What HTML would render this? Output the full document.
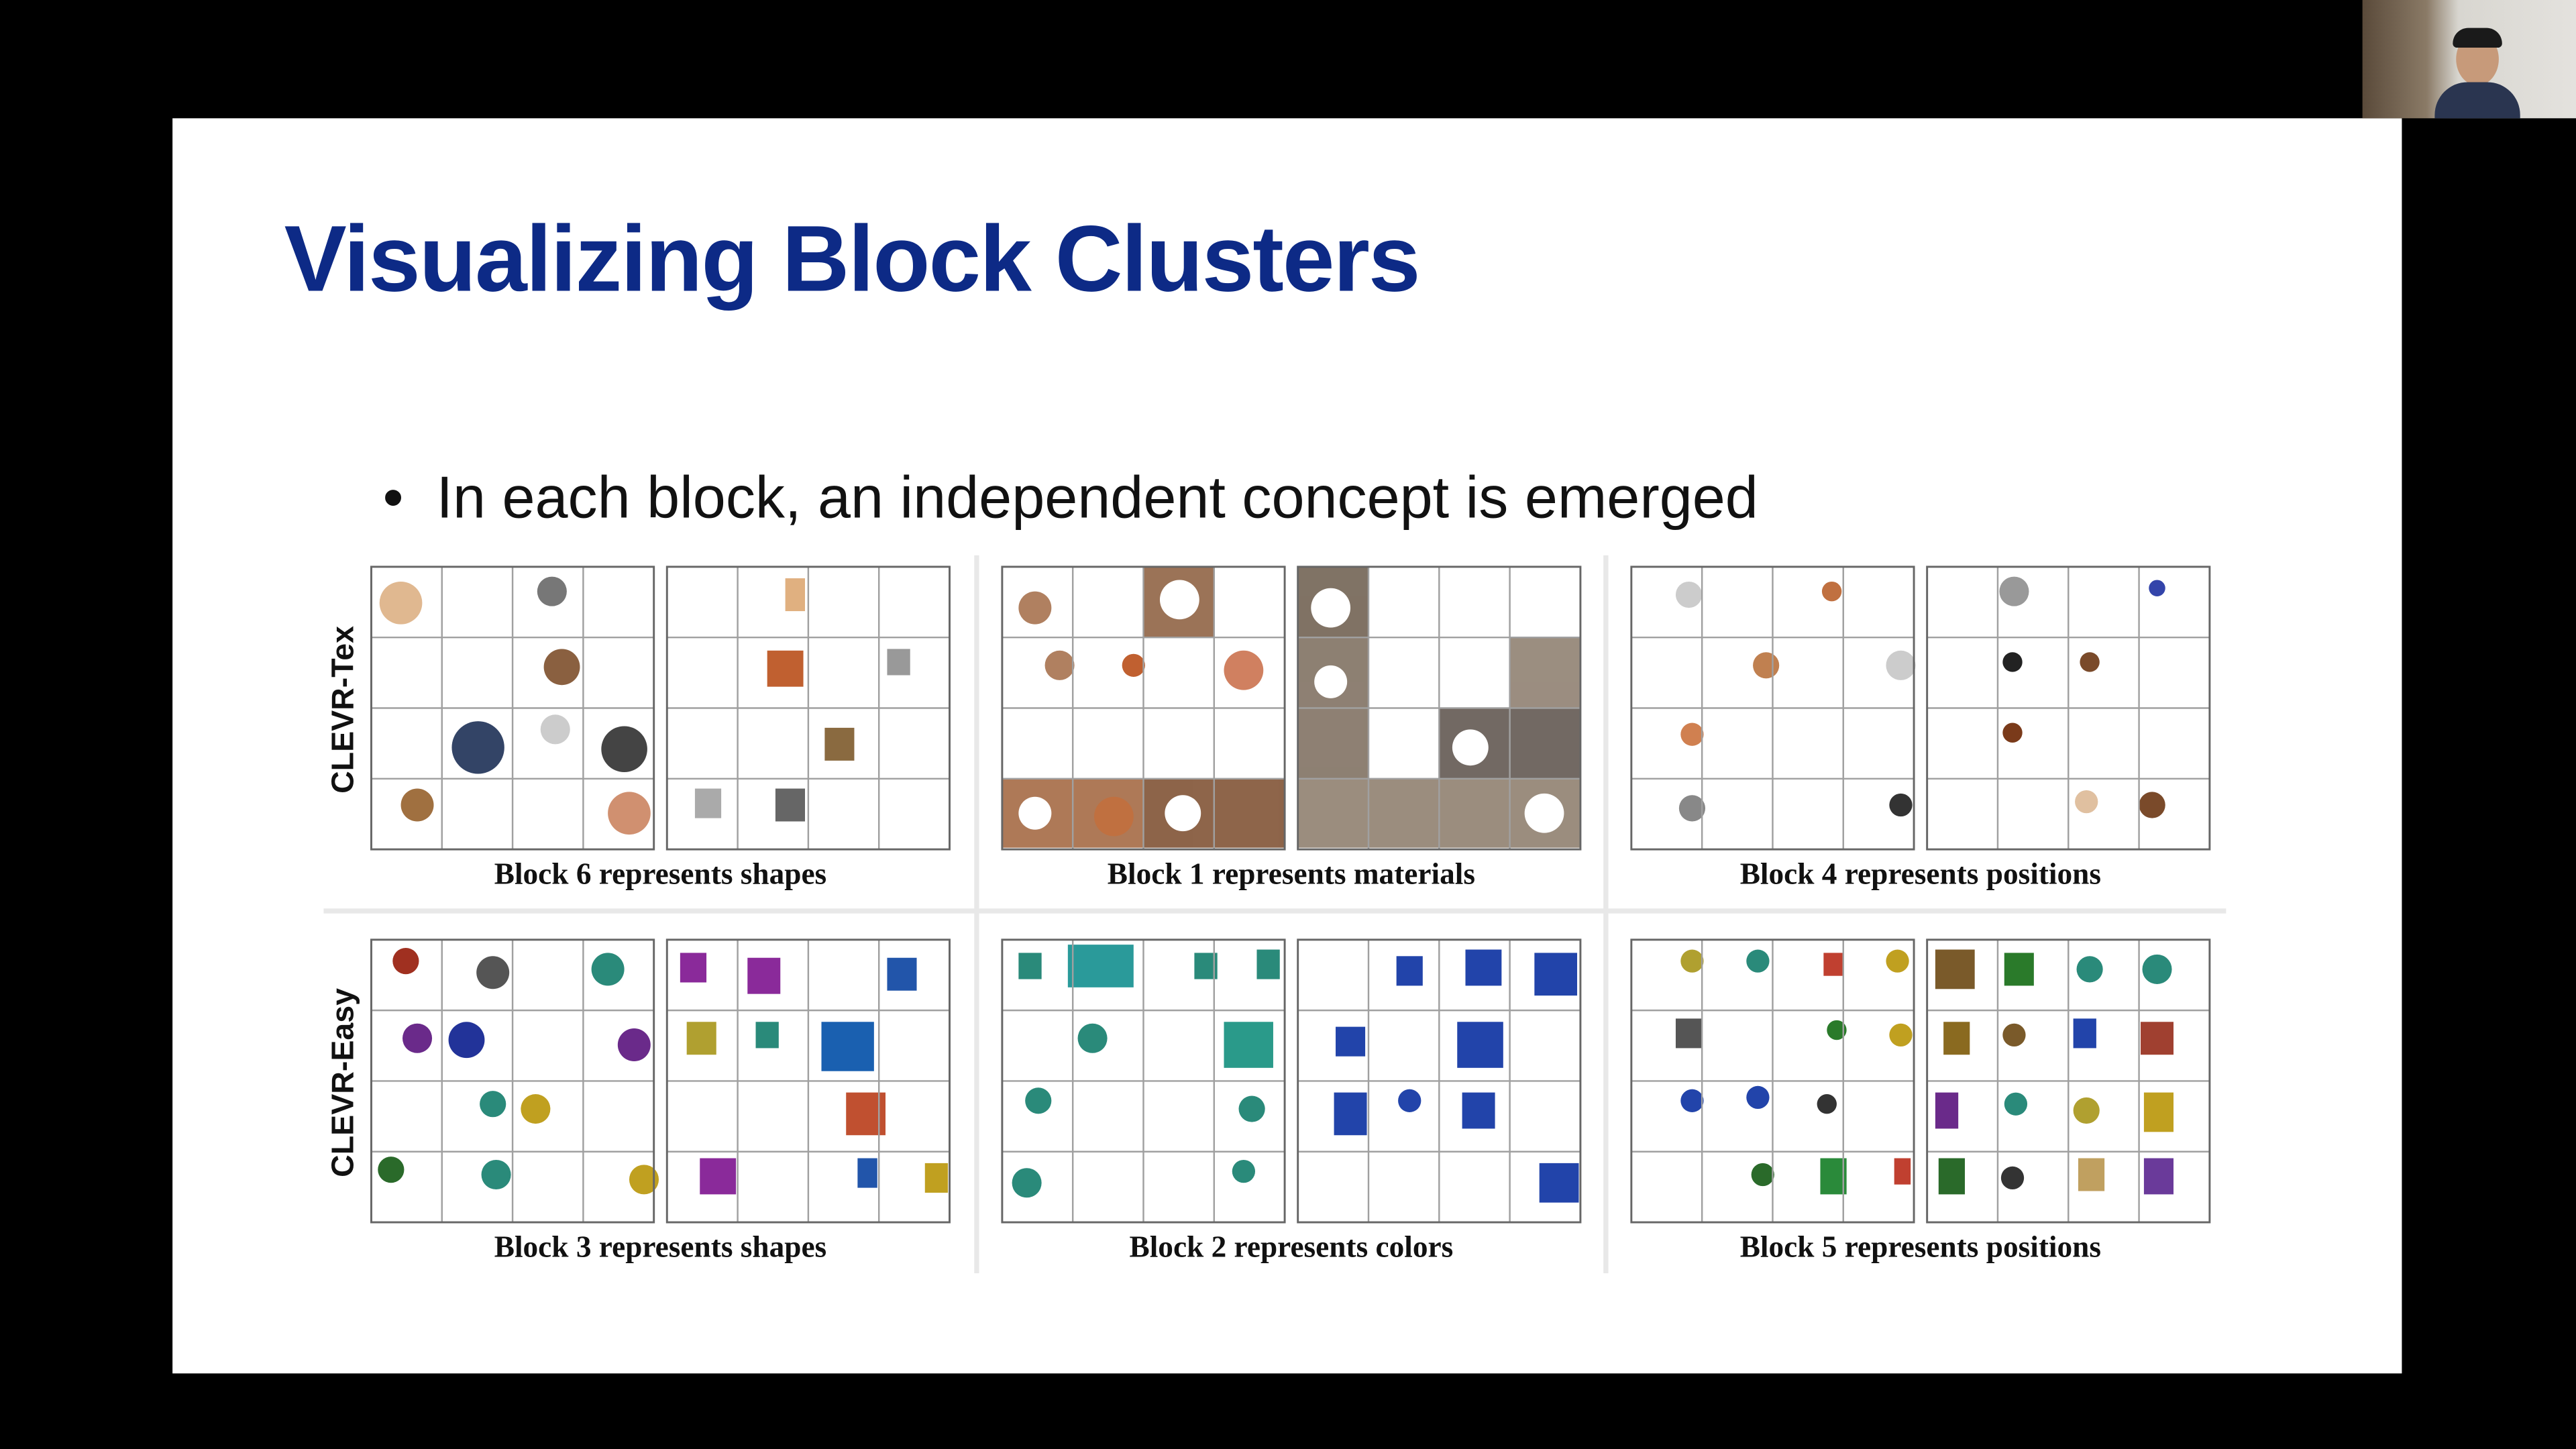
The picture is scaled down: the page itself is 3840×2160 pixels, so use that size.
<!DOCTYPE html>
<html><head><meta charset="utf-8"><style>
html,body{margin:0;padding:0;background:#000;width:3840px;height:2160px;overflow:hidden}
#s{position:absolute;left:0;top:0;width:1568px;height:882px;transform:scale(2.44898);transform-origin:0 0;font-family:"Liberation Sans",sans-serif}
.slide{position:absolute;left:105px;top:72px;width:1357px;height:764px;background:#fff}
.t{position:absolute;left:173px;top:125px;font-size:57px;font-weight:bold;color:#0d2a86;letter-spacing:-0.8px}
.b{position:absolute;left:233px;top:282px;font-size:36px;color:#111}
.lab{position:absolute;font-family:"Liberation Serif",serif;font-weight:bold;font-size:18.5px;color:#111;width:380px;text-align:center}
.rot{position:absolute;font-weight:bold;font-size:19px;color:#111;transform:rotate(-90deg);transform-origin:center;width:140px;text-align:center}
.vl{position:absolute;width:3px;background:#e8e8e8}
.cam{position:absolute;left:1438px;top:0;width:130px;height:72px;background:linear-gradient(90deg,#5a4a3a 0,#8a7a66 30%,#d8d6d0 45%,#e4e2de 100%)}
</style></head><body><div id="s">
<div class="slide"></div>
<div class="cam"><div style="position:absolute;left:57px;top:20px;width:26px;height:32px;border-radius:50%;background:#c79a7a"></div><div style="position:absolute;left:55px;top:17px;width:30px;height:12px;border-radius:15px 15px 4px 4px;background:#1a1a1a"></div><div style="position:absolute;left:44px;top:50px;width:52px;height:22px;border-radius:20px 20px 0 0;background:#2a3550"></div></div>
<div class="t">Visualizing Block Clusters</div>
<div class="b">•&nbsp; In each block, an independent concept is emerged</div>
<div class="vl" style="left:593px;top:338px;height:437px"></div>
<div class="vl" style="left:976px;top:338px;height:437px"></div>
<div style="position:absolute;left:197px;top:553px;width:1158px;height:3px;background:#e8e8e8"></div>
<div class="rot" style="left:140px;top:421px">CLEVR-Tex</div>
<div class="rot" style="left:140px;top:648px">CLEVR-Easy</div>

<svg style="position:absolute;left:0;top:0" width="1568" height="882">
<defs>
<g id="gl" fill="none" stroke="#a0a0a0" stroke-width="1">
<path d="M43 0v172M86 0v172M129 0v172M0 43h172M0 86h172M0 129h172"/>
<rect x="0" y="0" width="172" height="172" stroke="#666" stroke-width="1.2"/>
</g>
</defs>
<g opacity="0.85">
<rect x="696" y="345" width="43" height="43" fill="#8a5a3a"/><rect x="610" y="474" width="86" height="42" fill="#a0623a"/><rect x="696" y="474" width="86" height="42" fill="#7a4a2a"/>
<rect x="790" y="345" width="43" height="43" fill="#6a5a4a"/><rect x="790" y="388" width="43" height="86" fill="#7a6a5a"/><rect x="876" y="431" width="86" height="43" fill="#5a5048"/><rect x="919" y="388" width="43" height="43" fill="#8a7a6a"/><rect x="790" y="474" width="172" height="42" fill="#8a7a68"/>
</g>
<g>
<circle cx="718" cy="365" r="12" fill="#fff"/><circle cx="810" cy="370" r="12" fill="#fff"/><circle cx="810" cy="415" r="10" fill="#fff"/><circle cx="895" cy="455" r="11" fill="#fff"/><circle cx="940" cy="495" r="12" fill="#fff"/><circle cx="630" cy="495" r="10" fill="#fff"/><circle cx="720" cy="495" r="11" fill="#fff"/>
</g>
<g fill="#b08060">
<circle cx="244" cy="367" r="13" fill="#e0b890"/><circle cx="336" cy="360" r="9" fill="#777"/><circle cx="342" cy="406" r="11" fill="#8a6040"/><circle cx="291" cy="455" r="16" fill="#334466"/><circle cx="380" cy="456" r="14" fill="#444"/><circle cx="254" cy="490" r="10" fill="#a07040"/><circle cx="383" cy="495" r="13" fill="#d09070"/><circle cx="338" cy="444" r="9" fill="#ccc"/>
<rect x="467" y="396" width="22" height="22" fill="#c06030"/><rect x="502" y="443" width="18" height="20" fill="#8a6a40"/><rect x="472" y="480" width="18" height="20" fill="#666"/><rect x="423" y="480" width="16" height="18" fill="#aaa"/><rect x="540" y="395" width="14" height="16" fill="#999"/><rect x="478" y="352" width="12" height="20" fill="#e0b080"/>
<circle cx="630" cy="370" r="10"/><circle cx="645" cy="405" r="9"/><circle cx="757" cy="408" r="12" fill="#d08060"/><circle cx="690" cy="405" r="7" fill="#c06030"/><circle cx="678" cy="497" r="12" fill="#c07040"/>
<circle cx="1028" cy="362" r="8" fill="#ccc"/><circle cx="1115" cy="360" r="6" fill="#c07040"/><circle cx="1075" cy="405" r="8" fill="#c08050"/><circle cx="1157" cy="405" r="9" fill="#ccc"/><circle cx="1030" cy="447" r="7" fill="#d08050"/><circle cx="1157" cy="490" r="7" fill="#333"/><circle cx="1030" cy="492" r="8" fill="#888"/>
<circle cx="1226" cy="360" r="9" fill="#999"/><circle cx="1313" cy="358" r="5" fill="#3344aa"/><circle cx="1225" cy="403" r="6" fill="#222"/><circle cx="1272" cy="403" r="6" fill="#7a4a2a"/><circle cx="1225" cy="446" r="6" fill="#7a3a1a"/><circle cx="1310" cy="490" r="8" fill="#7a4a2a"/><circle cx="1270" cy="488" r="7" fill="#e0c0a0"/>
</g>
<g>
<circle cx="247" cy="585" r="8" fill="#a03020"/><circle cx="300" cy="592" r="10" fill="#555"/><circle cx="370" cy="590" r="10" fill="#2a8a7a"/><circle cx="254" cy="632" r="9" fill="#6a2a8a"/><circle cx="284" cy="633" r="11" fill="#223399"/><circle cx="386" cy="636" r="10" fill="#6a2a8a"/><circle cx="326" cy="675" r="9" fill="#c0a020"/><circle cx="300" cy="672" r="8" fill="#2a8a7a"/><circle cx="238" cy="712" r="8" fill="#2a6a2a"/><circle cx="302" cy="715" r="9" fill="#2a8a7a"/><circle cx="392" cy="718" r="9" fill="#c0a020"/>
<rect x="414" y="580" width="16" height="18" fill="#8a2a9a"/><rect x="455" y="583" width="20" height="22" fill="#8a2a9a"/><rect x="540" y="583" width="18" height="20" fill="#2255aa"/><rect x="418" y="622" width="18" height="20" fill="#b0a030"/><rect x="460" y="622" width="14" height="16" fill="#2a8a7a"/><rect x="500" y="622" width="32" height="30" fill="#1a60b0"/><rect x="515" y="665" width="24" height="26" fill="#c05030"/><rect x="426" y="705" width="22" height="22" fill="#8a2a9a"/><rect x="522" y="705" width="12" height="18" fill="#2255aa"/><rect x="563" y="708" width="14" height="18" fill="#c0a020"/>
<rect x="620" y="580" width="14" height="16" fill="#2a8a7a"/><rect x="650" y="575" width="40" height="26" fill="#2a9a9a"/><rect x="727" y="580" width="14" height="16" fill="#2a8a7a"/><rect x="765" y="578" width="14" height="18" fill="#2a8a7a"/><circle cx="665" cy="632" r="9" fill="#2a8a7a"/><rect x="745" y="622" width="30" height="28" fill="#2a9a8a"/><circle cx="632" cy="670" r="8" fill="#2a8a7a"/><circle cx="762" cy="675" r="8" fill="#2a8a7a"/><circle cx="625" cy="720" r="9" fill="#2a8a7a"/><circle cx="757" cy="713" r="7" fill="#2a8a7a"/>
<rect x="850" y="582" width="16" height="18" fill="#2244aa"/><rect x="892" y="578" width="22" height="22" fill="#2244aa"/><rect x="934" y="580" width="26" height="26" fill="#2244aa"/><rect x="813" y="625" width="18" height="18" fill="#2244aa"/><rect x="887" y="622" width="28" height="28" fill="#2244aa"/><rect x="812" y="665" width="20" height="26" fill="#2244aa"/><rect x="890" y="665" width="20" height="22" fill="#2244aa"/><rect x="937" y="708" width="24" height="24" fill="#2244aa"/><circle cx="858" cy="670" r="7" fill="#2244aa"/>
<circle cx="1030" cy="585" r="7" fill="#b0a030"/><circle cx="1070" cy="585" r="7" fill="#2a8a7a"/><rect x="1110" y="580" width="12" height="14" fill="#c04030"/><circle cx="1155" cy="585" r="7" fill="#c0a020"/><rect x="1020" y="620" width="16" height="18" fill="#555"/><circle cx="1118" cy="627" r="6" fill="#2a7a2a"/><circle cx="1157" cy="630" r="7" fill="#c0a020"/><circle cx="1030" cy="670" r="7" fill="#2244aa"/><circle cx="1070" cy="668" r="7" fill="#2244aa"/><circle cx="1112" cy="672" r="6" fill="#333"/><circle cx="1073" cy="715" r="7" fill="#2a6a2a"/><rect x="1108" y="705" width="16" height="22" fill="#2a8a3a"/><rect x="1153" y="705" width="10" height="16" fill="#c04030"/>
<rect x="1178" y="578" width="24" height="24" fill="#7a5a2a"/><rect x="1220" y="580" width="18" height="20" fill="#2a7a2a"/><circle cx="1272" cy="590" r="8" fill="#2a8a7a"/><circle cx="1313" cy="590" r="9" fill="#2a8a7a"/><rect x="1183" y="622" width="16" height="20" fill="#8a6a20"/><circle cx="1226" cy="630" r="7" fill="#7a5a2a"/><rect x="1262" y="620" width="14" height="18" fill="#2244aa"/><rect x="1303" y="622" width="20" height="20" fill="#a04030"/><rect x="1178" y="665" width="14" height="22" fill="#6a2a8a"/><circle cx="1227" cy="672" r="7" fill="#2a8a7a"/><circle cx="1270" cy="676" r="8" fill="#b0a030"/><rect x="1305" y="665" width="18" height="24" fill="#c0a020"/><rect x="1180" y="705" width="16" height="22" fill="#2a6a2a"/><circle cx="1225" cy="717" r="7" fill="#333"/><rect x="1265" y="705" width="16" height="20" fill="#c0a060"/><rect x="1305" y="705" width="18" height="22" fill="#6a3a9a"/>
</g>
<use href="#gl" x="226" y="345"/><use href="#gl" x="406" y="345"/>
<use href="#gl" x="610" y="345"/><use href="#gl" x="790" y="345"/>
<use href="#gl" x="993" y="345"/><use href="#gl" x="1173" y="345"/>
<use href="#gl" x="226" y="572"/><use href="#gl" x="406" y="572"/>
<use href="#gl" x="610" y="572"/><use href="#gl" x="790" y="572"/>
<use href="#gl" x="993" y="572"/><use href="#gl" x="1173" y="572"/>
</svg>
<div class="lab" style="left:212px;top:523px">Block 6 represents shapes</div>
<div class="lab" style="left:596px;top:523px">Block 1 represents materials</div>
<div class="lab" style="left:979px;top:523px">Block 4 represents positions</div>
<div class="lab" style="left:212px;top:750px">Block 3 represents shapes</div>
<div class="lab" style="left:596px;top:750px">Block 2 represents colors</div>
<div class="lab" style="left:979px;top:750px">Block 5 represents positions</div>
</div>
</body></html>
